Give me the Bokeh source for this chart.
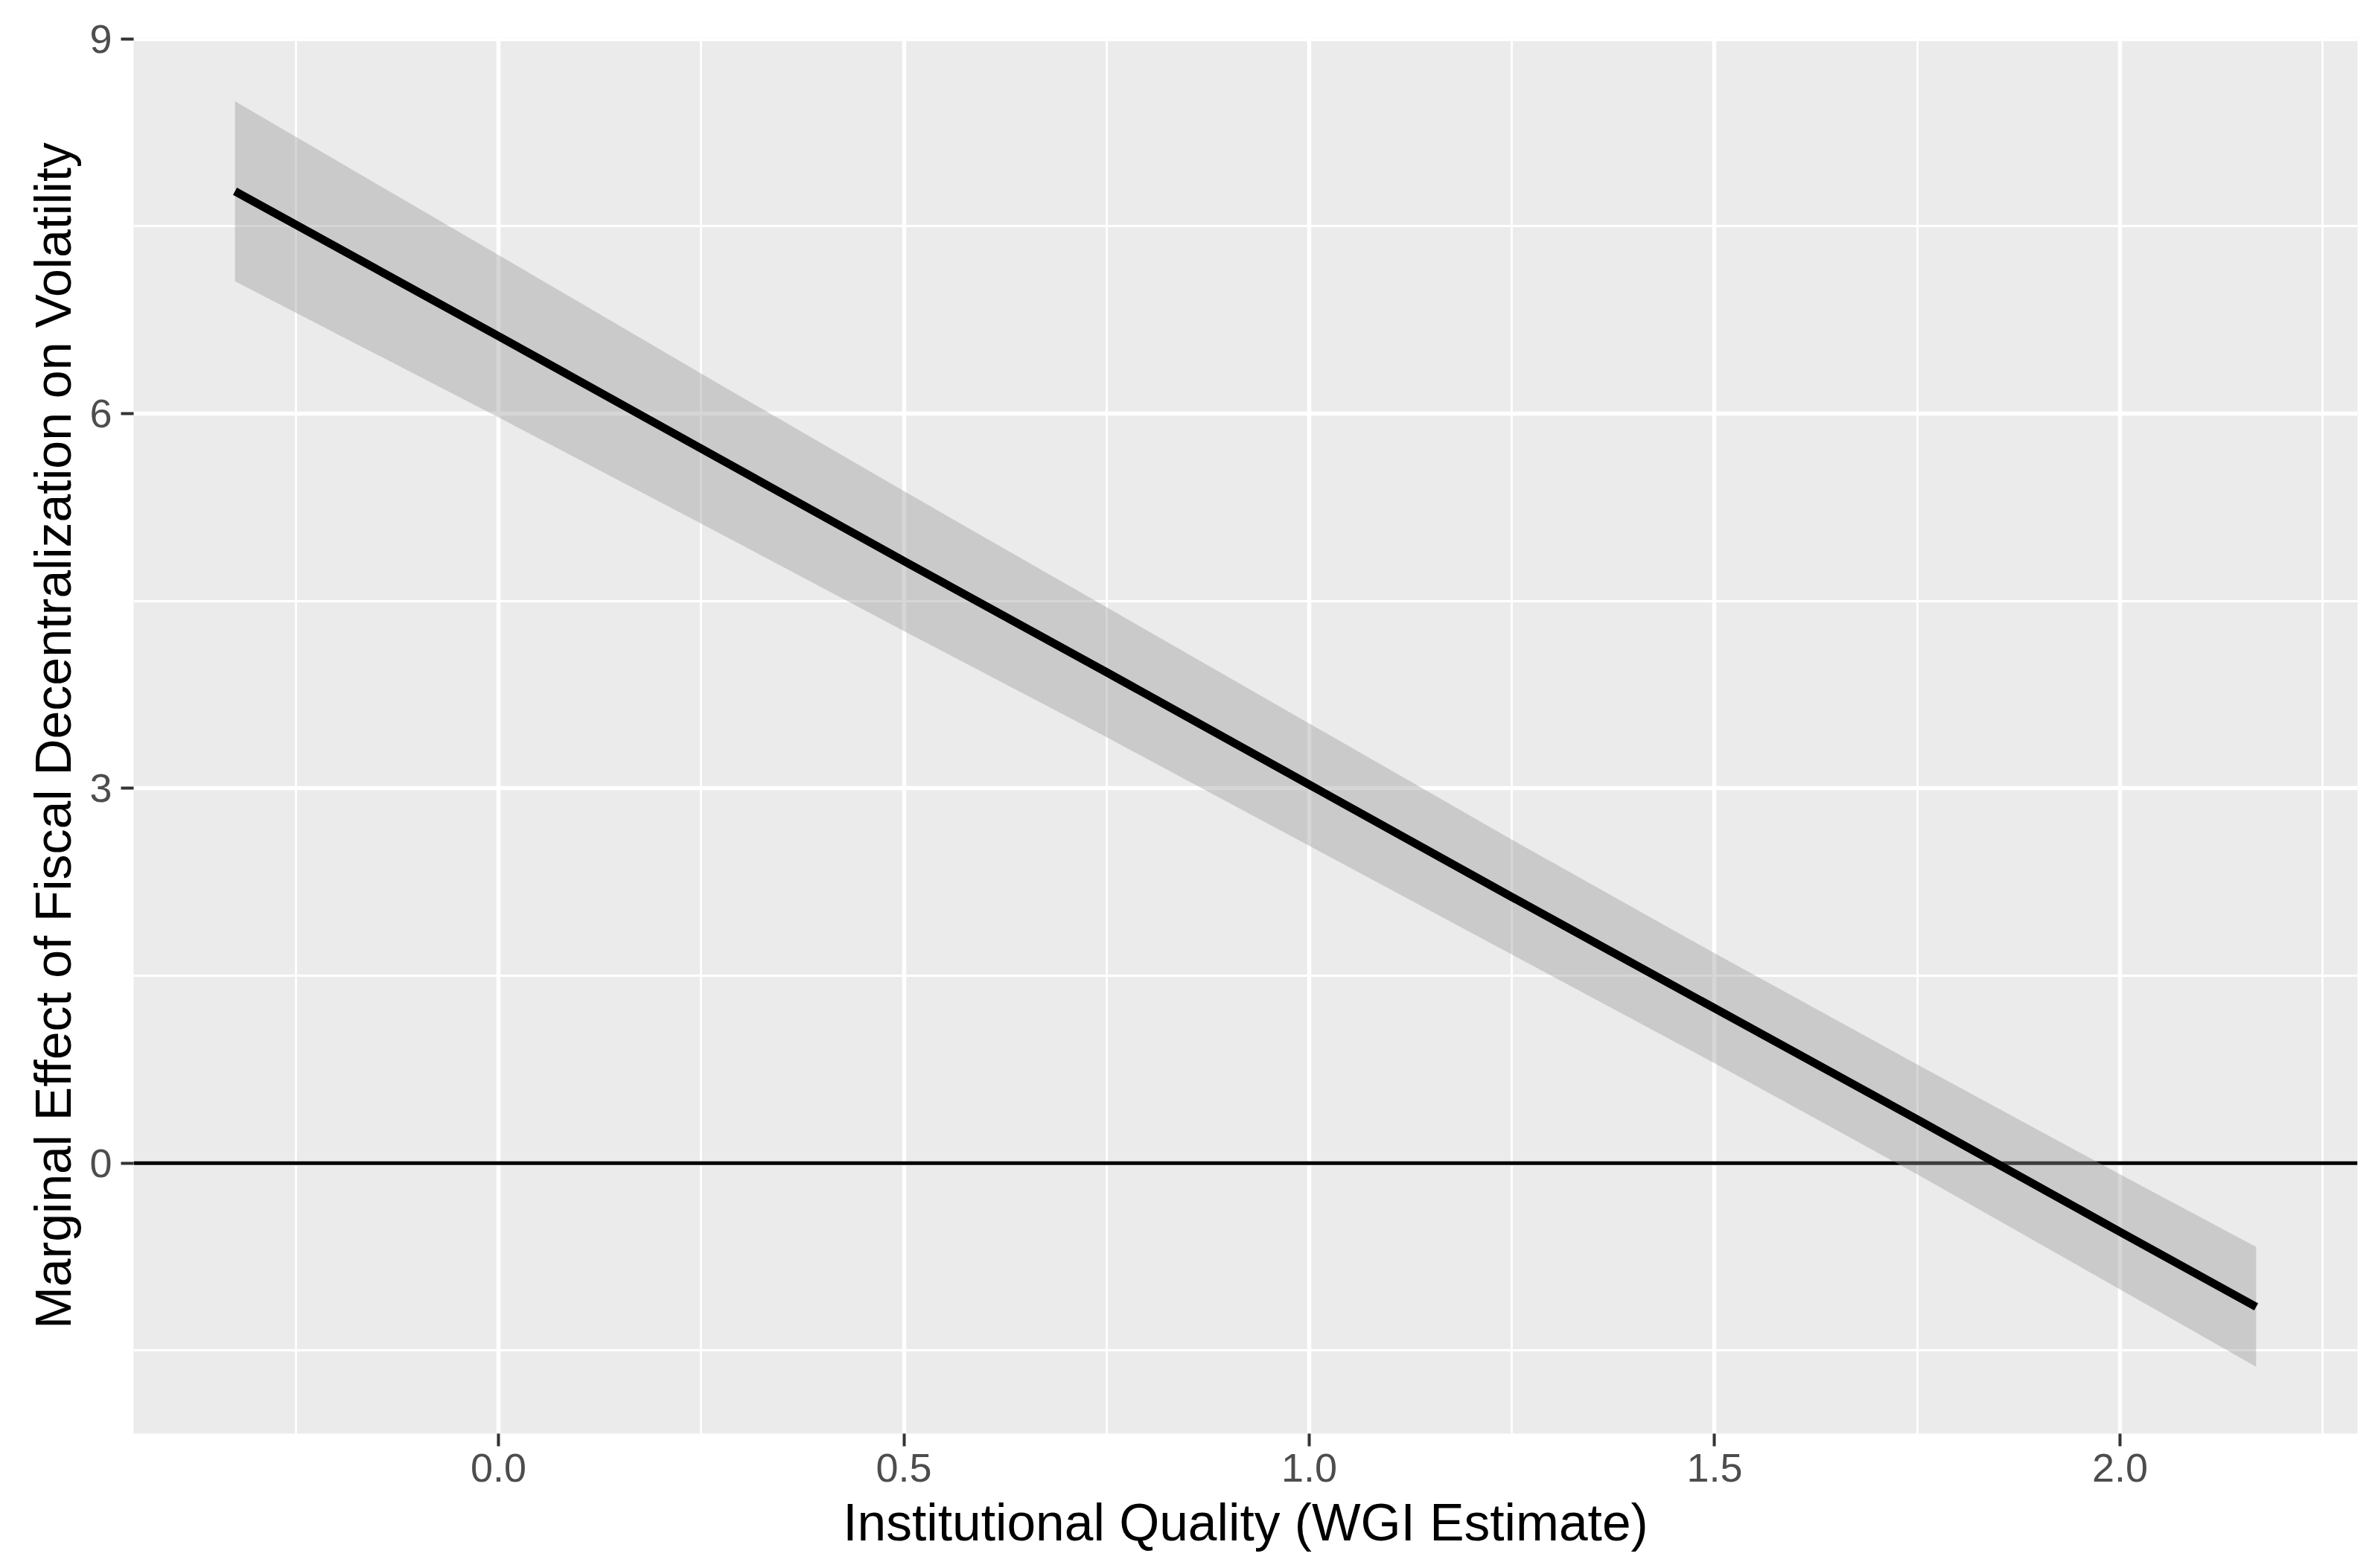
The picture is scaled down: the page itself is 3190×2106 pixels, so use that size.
from bokeh.plotting import figure
from bokeh.models import Range1d, FixedTicker, Span
from bokeh.embed import file_html
from bokeh.resources import INLINE

# Values
x_vals = [-0.325, 0.0, 0.25, 0.5, 0.75, 1.0, 1.25, 1.5, 1.75, 2.0, 2.168]
effect = [7.78, 6.62, 5.72, 4.82, 3.93, 3.03, 2.13, 1.24, 0.35, -0.55, -1.15]
ci_lower = [7.06, 5.97, 5.12, 4.26, 3.41, 2.54, 1.67, 0.80, -0.09, -1.01, -1.63]
ci_upper = [8.50, 7.27, 6.32, 5.38, 4.45, 3.52, 2.59, 1.68, 0.79, -0.09, -0.67]

x_ticks = [0.0, 0.5, 1.0, 1.5, 2.0]
x_tick_labels = ["0.0", "0.5", "1.0", "1.5", "2.0"]
x_minor = [-0.25, 0.25, 0.75, 1.25, 1.75, 2.25]
y_ticks = [0, 3, 6, 9]
y_tick_labels = ["0", "3", "6", "9"]
y_minor = [-1.5, 1.5, 4.5, 7.5]

x_label = "Institutional Quality (WGI Estimate)"
y_label = "Marginal Effect of Fiscal Decentralization on Volatility"

FONT = "Liberation Sans"

p = figure(width=3182, height=2098, output_backend="svg", toolbar_location=None,
           x_range=Range1d(-0.450, 2.293), y_range=Range1d(-2.165, 9.01),
           min_border_left=179, min_border_right=16, min_border_top=50, min_border_bottom=173)

p.background_fill_color = "#EBEBEB"
p.border_fill_color = "white"
p.outline_line_color = None

p.xaxis.ticker = FixedTicker(ticks=x_ticks, minor_ticks=x_minor)
p.yaxis.ticker = FixedTicker(ticks=y_ticks, minor_ticks=y_minor)
p.xaxis.major_label_overrides = {t: l for t, l in zip(x_ticks, x_tick_labels)}
p.yaxis.major_label_overrides = {t: l for t, l in zip(y_ticks, y_tick_labels)}

for g in (p.xgrid, p.ygrid):
    g.grid_line_color = "white"
    g.grid_line_width = 5.5
    g.minor_grid_line_color = "white"
    g.minor_grid_line_width = 2.8

for ax in (p.xaxis, p.yaxis):
    ax.axis_line_color = None
    ax.minor_tick_line_color = None
    ax.major_tick_in = 0
    ax.major_tick_out = 17
    ax.major_tick_line_width = 4
    ax.major_tick_line_color = "#333333"
    ax.major_label_text_font = FONT
    ax.major_label_text_font_size = "54px"
    ax.major_label_text_color = "#4D4D4D"
    ax.axis_label_text_font = FONT
    ax.axis_label_text_font_style = "normal"
    ax.axis_label_text_color = "black"

p.xaxis.axis_label_text_font_size = "69.5px"
p.yaxis.axis_label_text_font_size = "68px"

p.xaxis.axis_label = x_label
p.yaxis.axis_label = y_label
p.xaxis.major_label_standoff = 10
p.yaxis.major_label_standoff = 12
p.xaxis.axis_label_standoff = 13
p.yaxis.axis_label_standoff = 8

zero = Span(location=0, dimension="width", line_color="black", line_width=5, level="underlay")
p.add_layout(zero)

p.varea(x=x_vals, y1=ci_lower, y2=ci_upper, fill_color="#999999", fill_alpha=0.4)
p.line(x=x_vals, y=effect, line_color="black", line_width=11)

open("out.html", "w").write(file_html(p, INLINE))
